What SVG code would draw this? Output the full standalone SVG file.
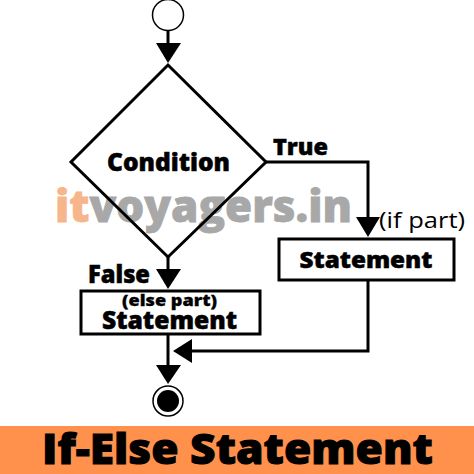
<svg xmlns="http://www.w3.org/2000/svg" width="474" height="474" viewBox="0 0 474 474">
<style>
.ln{fill:none;stroke:#000;stroke-width:3}
.bx{fill:#fff;stroke:#000;stroke-width:3}
.t{font-family:"Open Sans","Liberation Sans",sans-serif;font-weight:800;fill:#000;stroke:#000;stroke-width:0.5}
.r{font-family:"Open Sans","Liberation Sans",sans-serif;font-weight:normal;fill:#000}
.wm{font-family:"Open Sans","Liberation Sans",sans-serif;font-weight:800;stroke-width:0.8}
</style>
<rect width="474" height="474" fill="#fff"/>
<text x="55" y="222" class="wm" font-size="45" textLength="297" lengthAdjust="spacingAndGlyphs"><tspan fill="#F6B58A" stroke="#F6B58A">it</tspan><tspan fill="#A8A8A8" stroke="#A8A8A8">voyagers.in</tspan></text>
<g id="connectors">
<line class="ln" x1="168" y1="31" x2="168" y2="46"/>
<polygon points="156,43 181,43 168,63"/>
<polyline class="ln" points="266,162 368,162 368,220"/>
<polygon points="356,217 380,217 368,237"/>
<line class="ln" x1="168" y1="257" x2="168" y2="272"/>
<polygon points="156,269 181,269 168,289"/>
<polyline class="ln" points="368,280 368,351 190,351"/>
<polygon points="192,339 192,363 173,351"/>
<line class="ln" x1="168" y1="334" x2="168" y2="368"/>
<polygon points="156,365 181,365 168,384"/>
</g>
<g id="start"><circle cx="168" cy="15" r="15.5" fill="#fff" stroke="#000" stroke-width="1.5"/></g>
<g id="condition">
<polygon class="ln" points="168,65 266,162 168,257 71,162"/>
<text x="168.5" y="171" class="t" font-size="24.5" text-anchor="middle" textLength="123" lengthAdjust="spacingAndGlyphs">Condition</text>
</g>
<g id="true-label"><text x="273" y="155" class="t" font-size="23" textLength="55" lengthAdjust="spacingAndGlyphs">True</text></g>
<g id="if-label"><text x="379" y="228" class="r" font-size="22" textLength="86" lengthAdjust="spacingAndGlyphs">(if part)</text></g>
<g id="if-statement">
<rect class="bx" x="279" y="239" width="175" height="41"/>
<text x="366" y="268" class="t" font-size="23.5" text-anchor="middle" textLength="133" lengthAdjust="spacingAndGlyphs">Statement</text>
</g>
<g id="false-label"><text x="88" y="283" class="t" font-size="24" textLength="62" lengthAdjust="spacingAndGlyphs">False</text></g>
<g id="else-statement">
<rect class="bx" x="81" y="291" width="179" height="43"/>
<text x="169.5" y="306" class="t" font-size="16.5" text-anchor="middle" textLength="95" lengthAdjust="spacingAndGlyphs" style="stroke-width:0.3">(else part)</text>
<text x="169.5" y="329" class="t" font-size="24" text-anchor="middle" textLength="135" lengthAdjust="spacingAndGlyphs">Statement</text>
</g>
<g id="end">
<circle cx="168" cy="401" r="15" fill="#fff" stroke="#000" stroke-width="1.5"/>
<circle cx="168" cy="401" r="11" fill="#000"/>
</g>
<g id="banner">
<rect x="0" y="426" width="474" height="48" fill="#FF914D"/>
<text x="42" y="464" class="t" font-size="43" textLength="391" lengthAdjust="spacingAndGlyphs" style="stroke-width:1">If-Else Statement</text>
</g>
</svg>
